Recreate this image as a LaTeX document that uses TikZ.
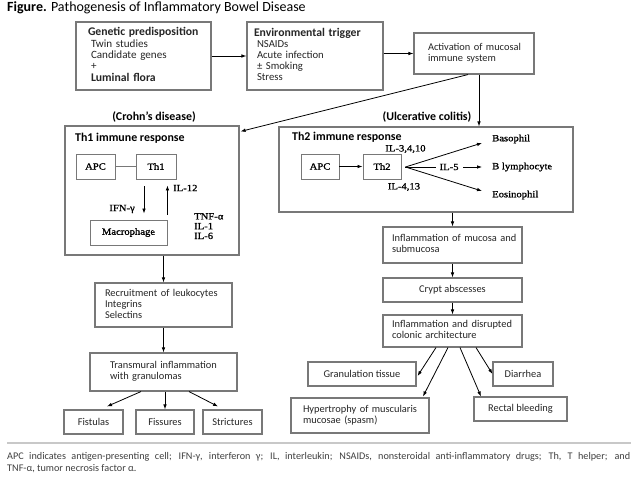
\documentclass[tikz,border=0pt]{standalone}
\usepackage{fontspec}
\setmainfont{Carlito}
\newfontfamily\labfont[FakeStretch=1.12,FakeBold=1.2]{Liberation Serif}
\usetikzlibrary{arrows.meta,calc}
\definecolor{boxgray}{RGB}{120,120,120}
\definecolor{rulegray}{RGB}{200,200,200}
\newcommand\tb[1]{\begin{tabular}{@{}l@{}}#1\end{tabular}}
\newcommand\hb[1]{{\bfseries\fontsize{11.7}{11.2}\selectfont #1}}
\begin{document}
\begin{tikzpicture}[x=1pt,y=-1pt,
  bx/.style={draw=boxgray, line width=1.1pt, rectangle, inner ysep=0pt,
    font=\fontsize{10.4}{11.1}\selectfont, text=black!85},
  ib/.style={draw=boxgray, line width=0.9pt, rectangle, inner sep=0pt,
    font=\labfont\fontsize{9.5}{10}\selectfont},
  lab/.style={inner sep=1pt, font=\labfont\fontsize{9.5}{9.8}\selectfont},
  hd/.style={inner sep=0pt, font=\bfseries\fontsize{11.9}{11}\selectfont},
  arr/.style={draw=black, line width=0.8pt, -{Latex[length=5pt,width=3.6pt]}},
  capf/.style={inner sep=0pt, font=\fontsize{10.2}{10}\selectfont, text=black!75}
]
\useasboundingbox[fill=white] (0,0) rectangle (638,479);

% title
\node[anchor=base west, inner sep=0pt, font=\fontsize{14}{14}\selectfont] (title) at (7,11.5)
  {\textbf{Figure.} Pathogenesis of Inflammatory Bowel Disease};

% top row
\node[bx, font=\fontsize{11.1}{11.2}\selectfont, text width=111, inner xsep=12, minimum height=68, align=left] (gen) at (143.5,56)
  {\tb{\hb{Genetic predisposition}\\\hspace*{3pt}Twin studies\\\hspace*{3pt}Candidate genes\\\hspace*{3pt}+\\\hspace*{3pt}\hb{Luminal flora}}};
\node[bx, font=\fontsize{10.7}{11.2}\selectfont, text width=122, inner xsep=7, minimum height=68, align=left] (env) at (315,56)
  {\tb{\hb{Environmental trigger}\\\hspace*{3pt}NSAIDs\\\hspace*{3pt}Acute infection\\\hspace*{3pt}± Smoking\\\hspace*{3pt}Stress}};
\node[bx, text width=92, inner xsep=14, minimum height=41, align=left] (act) at (474,53.5)
  {\tb{Activation of mucosal\\immune system}};

\draw[arr] (gen) -- (env);
\draw[arr] (env.east |- act) -- (act.west);
\coordinate (a1) at ($(act.south)+(-6,0)$);
\coordinate (a2) at ($(act.south)+(5,0)$);

% Th1 box
\node[bx, minimum width=174, minimum height=129] (th1box) at (152,190.5) {};
\node[hd] (crohn) at (154,117) {(Crohn's disease)};
\node[hd, anchor=west] (th1hd) at (75,138) {Th1 immune response};
\node[ib, minimum width=39, minimum height=25] (apc1) at (95.5,166.5) {APC};
\node[ib, minimum width=40, minimum height=25] (th1) at (156,166.5) {Th1};
\node[ib, minimum width=77, minimum height=25] (mac) at (128.5,232.5) {Macrophage};
\draw[draw=boxgray, line width=0.7pt] (apc1) -- (th1);
\coordinate (d1) at ($(th1.south)+(-12,7)$);
\draw[arr, shorten >=6pt] (d1) -- (d1 |- mac.north);
\coordinate (u1) at ($(mac.north east)+(0,-5)$);
\draw[arr, shorten >=6pt] (u1) -- (u1 |- th1.south);
\node[lab, anchor=east] (ifn) at (136,209) {IFN-γ};
\node[lab, anchor=west] (il12) at (172,188) {IL-12};
\node[lab, anchor=north west, align=left] (tnf) at (193,212) {TNF-α\\IL-1\\IL-6};

\draw[arr] (a1) -- ($(th1box.north east)+(1,6)$);

% Th2 box
\node[bx, minimum width=294, minimum height=85] (th2box) at (426,169.5) {};
\node[hd] (uc) at (427,117) {(Ulcerative colitis)};
\node[hd, anchor=west] (th2hd) at (292,137.5) {Th2 immune response};
\node[ib, minimum width=38, minimum height=25] (apc2) at (320,166.5) {APC};
\node[ib, minimum width=38, minimum height=25] (th2) at (382,166.5) {Th2};
\draw[arr] (apc2) -- (th2);
\node[lab] (il3) at (405.5,149) {IL-3,4,10};
\node[lab] (il4) at (404,187) {IL-4,13};
\node[lab, anchor=west] (baso) at (491,139) {Basophil};
\node[lab, anchor=west] (blym) at (491,167) {B lymphocyte};
\node[lab, anchor=west] (eos) at (491,195) {Eosinophil};
\coordinate (fan) at ($(th2.east)+(4,0.5)$);
\coordinate (tb) at (482,143);
\coordinate (tl) at (482,167);
\coordinate (te) at (482,191);
\draw[arr] (fan) -- (tb);
\draw[arr] (fan) -- node[pos=0.57, fill=white, inner xsep=4pt, inner ysep=1pt, font=\labfont\fontsize{9.5}{10}\selectfont] (il5) {IL-5} (tl);
\draw[arr] (fan) -- (te);

\draw[arr] (a2) -- (a2 |- th2box.north);

% right chain
\node[bx, text width=121, inner xsep=9, minimum height=36, align=left] (infl) at (452.5,245)
  {\tb{Inflammation of mucosa and\\submucosa}};
\node[bx, minimum width=139, minimum height=24, align=center] (crypt) at (452.5,290) {Crypt abscesses};
\node[bx, text width=121, inner xsep=9, minimum height=32, align=left] (dis) at (452.5,331)
  {\tb{Inflammation and disrupted\\colonic architecture}};
\node[bx, minimum width=108, minimum height=24] (gran) at (362,374) {Granulation tissue};
\node[bx, minimum width=60, minimum height=24] (diar) at (523,374) {Diarrhea};
\node[bx, text width=114, inner xsep=12, minimum height=35, align=left] (hyp) at (360,415.5)
  {\tb{Hypertrophy of muscularis\\mucosae (spasm)}};
\node[bx, minimum width=93, minimum height=24] (rect) at (520.5,409) {Rectal bleeding};

\draw[arr] (infl.north |- th2box.south) -- (infl.north);
\draw[arr] (infl) -- (crypt);
\draw[arr] (crypt) -- (dis);
\draw[arr] ($(dis.south)+(-16.5,0)$) -- ($(gran.east)+(1,2)$);
\draw[arr] ($(dis.south)+(-4.5,0)$) -- ($(hyp.north)+(63,-1)$);
\draw[arr] ($(dis.south)+(7.5,0)$) -- ($(rect.north)+(-39.5,0)$);
\draw[arr] ($(dis.south)+(23.5,0)$) -- (diar.west);

% left chain
\node[bx, text width=117, inner xsep=10, minimum height=44, align=left] (recr) at (163.5,305)
  {\tb{Recruitment of leukocytes\\Integrins\\Selectins}};
\node[bx, text width=107, inner xsep=20, minimum height=38, align=left] (trans) at (163.5,372)
  {\tb{Transmural inflammation\\with granulomas}};
\node[bx, minimum width=59, minimum height=24] (fist) at (93.5,422) {Fistulas};
\node[bx, minimum width=58, minimum height=24] (fiss) at (165,422) {Fissures};
\node[bx, minimum width=59, minimum height=24] (stri) at (232.5,422) {Strictures};

\draw[arr] (recr.north |- th1box.south) -- (recr.north);
\draw[arr] (recr) -- (trans);
\draw[arr] ($(trans.south)+(-22.5,0)$) -- ($(fist.north)+(13.5,-3)$);
\draw[arr] (fiss.north |- trans.south) -- (fiss.north);
\draw[arr] ($(trans.south)+(25.5,0)$) -- ($(stri.north)+(-14.5,-3)$);

% caption
\coordinate (r1) at (7,443);
\coordinate (r2) at (631,443);
\draw[draw=rulegray, line width=1.6pt] (r1) -- (r2);
\node[capf, anchor=west] (cap1) at (7,457)
  {\makebox[623pt][s]{APC indicates antigen-presenting cell; IFN-γ, interferon γ; IL, interleukin; NSAIDs, nonsteroidal anti-inflammatory drugs; Th, T helper; and}};
\node[capf, anchor=west] (cap2) at (7,469) {TNF-α, tumor necrosis factor α.};
\end{tikzpicture}
\end{document}
